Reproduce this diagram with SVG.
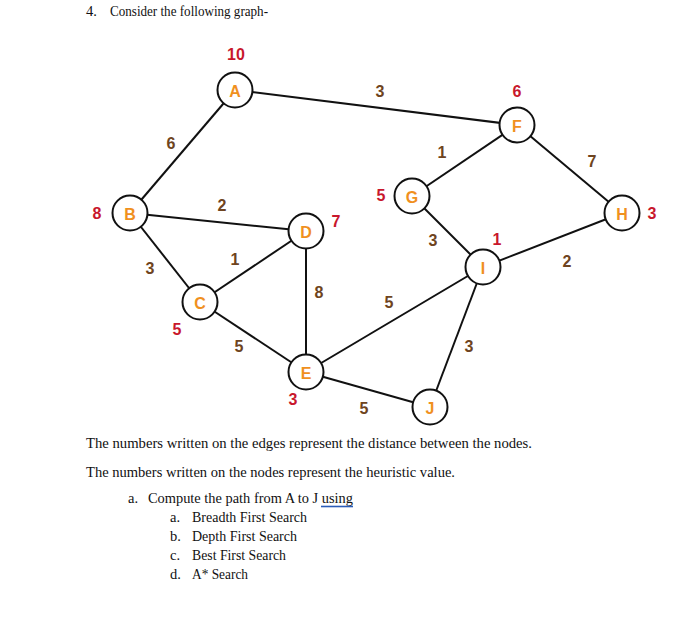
<svg xmlns="http://www.w3.org/2000/svg" width="700" height="625" viewBox="0 0 700 625">
<style>
.edge{stroke:#111;stroke-width:2;fill:none}
.node circle{fill:#fff;stroke:#111;stroke-width:2}
.nl{font-family:"Liberation Sans",Arial,sans-serif;font-weight:bold;font-size:16px;fill:#F0901E;text-anchor:middle;dominant-baseline:central}
.ew{font-family:"Liberation Sans",Arial,sans-serif;font-weight:bold;font-size:16px;fill:#6E4420;text-anchor:middle;dominant-baseline:central}
.hv{font-family:"Liberation Sans",Arial,sans-serif;font-weight:bold;font-size:16px;fill:#C8172C;text-anchor:middle;dominant-baseline:central}
.tx{font-family:"Liberation Serif","Times New Roman",serif;font-size:14.5px;fill:#111}
</style>
<rect width="700" height="625" fill="#fff"/>
<text class="tx" x="86" y="16">4.</text>
<text class="tx" x="110" y="16" textLength="158" lengthAdjust="spacingAndGlyphs">Consider the following graph-</text>

<g id="connectors">
<line class="edge" x1="235" y1="90" x2="517" y2="125"/>
<line class="edge" x1="235" y1="90" x2="130" y2="213"/>
<line class="edge" x1="517" y1="125" x2="412" y2="196"/>
<line class="edge" x1="517" y1="125" x2="622" y2="213"/>
<line class="edge" x1="130" y1="213" x2="306" y2="231"/>
<line class="edge" x1="130" y1="213" x2="200" y2="302"/>
<line class="edge" x1="200" y1="302" x2="306" y2="231"/>
<line class="edge" x1="200" y1="302" x2="306" y2="372"/>
<line class="edge" x1="306" y1="231" x2="306" y2="372"/>
<line class="edge" x1="412" y1="196" x2="483" y2="267"/>
<line class="edge" x1="483" y1="267" x2="622" y2="213"/>
<line class="edge" x1="483" y1="267" x2="306" y2="372"/>
<line class="edge" x1="483" y1="267" x2="430" y2="407"/>
<line class="edge" x1="306" y1="372" x2="430" y2="407"/>
</g>

<g id="edge-labels">
<text class="ew" x="171" y="143">6</text>
<text class="ew" x="380" y="91">3</text>
<text class="ew" x="442" y="152">1</text>
<text class="ew" x="592" y="161">7</text>
<text class="ew" x="222" y="205">2</text>
<text class="ew" x="150" y="268">3</text>
<text class="ew" x="235" y="259">1</text>
<text class="ew" x="319" y="292">8</text>
<text class="ew" x="433" y="240">3</text>
<text class="ew" x="567" y="261">2</text>
<text class="ew" x="389" y="302">5</text>
<text class="ew" x="239" y="346">5</text>
<text class="ew" x="469" y="346">3</text>
<text class="ew" x="364" y="408">5</text>
</g>

<g id="node-A" class="node"><circle cx="235" cy="90" r="17.5"/><text class="nl" x="235" y="91">A</text><text class="hv" x="236" y="54">10</text></g>
<g id="node-B" class="node"><circle cx="130" cy="213" r="17.5"/><text class="nl" x="130" y="214">B</text><text class="hv" x="97" y="213">8</text></g>
<g id="node-C" class="node"><circle cx="200" cy="302" r="17.5"/><text class="nl" x="200" y="303">C</text><text class="hv" x="177" y="329">5</text></g>
<g id="node-D" class="node"><circle cx="306" cy="231" r="17.5"/><text class="nl" x="306" y="232">D</text><text class="hv" x="336" y="221">7</text></g>
<g id="node-E" class="node"><circle cx="306" cy="372" r="17.5"/><text class="nl" x="306" y="373">E</text><text class="hv" x="293" y="399">3</text></g>
<g id="node-F" class="node"><circle cx="517" cy="125" r="17.5"/><text class="nl" x="517" y="126">F</text><text class="hv" x="517" y="91">6</text></g>
<g id="node-G" class="node"><circle cx="412" cy="196" r="17.5"/><text class="nl" x="412" y="197">G</text><text class="hv" x="381" y="195">5</text></g>
<g id="node-H" class="node"><circle cx="622" cy="213" r="17.5"/><text class="nl" x="622" y="214">H</text><text class="hv" x="652" y="213">3</text></g>
<g id="node-I" class="node"><circle cx="483" cy="267" r="17.5"/><text class="nl" x="483" y="268">I</text><text class="hv" x="497" y="239">1</text></g>
<g id="node-J" class="node"><circle cx="430" cy="407" r="17.5"/><text class="nl" x="430" y="408">J</text></g>

<text class="tx" x="86" y="448" textLength="446" lengthAdjust="spacingAndGlyphs">The numbers written on the edges represent the distance between the nodes.</text>
<text class="tx" x="86" y="477" textLength="369" lengthAdjust="spacingAndGlyphs">The numbers written on the nodes represent the heuristic value.</text>
<text class="tx" x="128" y="503">a.</text>
<text class="tx" x="148" y="503" textLength="205" lengthAdjust="spacingAndGlyphs">Compute the path from A to J using</text>
<line x1="321" y1="506.5" x2="353" y2="506.5" stroke="#2B5CB8" stroke-width="1.6"/>
<text class="tx" x="170" y="522">a.</text>
<text class="tx" x="192" y="522" textLength="115" lengthAdjust="spacingAndGlyphs">Breadth First Search</text>
<text class="tx" x="170" y="541">b.</text>
<text class="tx" x="192" y="541" textLength="105" lengthAdjust="spacingAndGlyphs">Depth First Search</text>
<text class="tx" x="170" y="560">c.</text>
<text class="tx" x="192" y="560" textLength="94" lengthAdjust="spacingAndGlyphs">Best First Search</text>
<text class="tx" x="170" y="579">d.</text>
<text class="tx" x="192" y="579" textLength="56" lengthAdjust="spacingAndGlyphs">A* Search</text>
</svg>
